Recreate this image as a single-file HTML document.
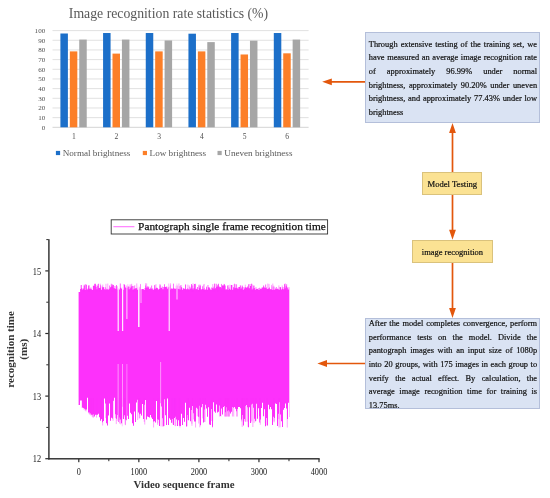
<!DOCTYPE html>
<html><head><meta charset="utf-8"><title>Model testing</title>
<style>
html,body{margin:0;padding:0;background:#fff;}
body{width:550px;height:498px;position:relative;overflow:hidden;font-family:"Liberation Serif",serif;}
svg{position:absolute;left:0;top:0;}
svg text{font-family:"Liberation Serif",serif;}
.box{position:absolute;box-sizing:border-box;}
.blue{background:#dae3f3;border:1px solid #b4bfda;left:364.9px;width:174.9px;}
.yel{background:#fbe293;border:1px solid #dac27c;text-align:center;color:#111;white-space:nowrap;-webkit-text-stroke:0.2px #111;}
.ln{position:absolute;left:2.9px;width:168.3px;-webkit-text-stroke:0.2px #111;height:13.6px;line-height:13.6px;font-size:8.4px;color:#111;text-align:justify;text-align-last:justify;white-space:nowrap;}
.ln.last{text-align-last:left;}
</style></head><body>
<svg width="550" height="498" viewBox="0 0 550 498">
<rect x="52.5" y="126.80" width="256.1" height="1" fill="#d4d4d4"/>
<text x="45.2" y="129.70" text-anchor="end" font-size="7.05" fill="#505050">0</text>
<rect x="52.5" y="117.13" width="256.1" height="1" fill="#e1e1e1"/>
<text x="45.2" y="120.03" text-anchor="end" font-size="7.05" fill="#505050">10</text>
<rect x="52.5" y="107.46" width="256.1" height="1" fill="#e1e1e1"/>
<text x="45.2" y="110.36" text-anchor="end" font-size="7.05" fill="#505050">20</text>
<rect x="52.5" y="97.79" width="256.1" height="1" fill="#e1e1e1"/>
<text x="45.2" y="100.69" text-anchor="end" font-size="7.05" fill="#505050">30</text>
<rect x="52.5" y="88.12" width="256.1" height="1" fill="#e1e1e1"/>
<text x="45.2" y="91.02" text-anchor="end" font-size="7.05" fill="#505050">40</text>
<rect x="52.5" y="78.45" width="256.1" height="1" fill="#e1e1e1"/>
<text x="45.2" y="81.35" text-anchor="end" font-size="7.05" fill="#505050">50</text>
<rect x="52.5" y="68.78" width="256.1" height="1" fill="#e1e1e1"/>
<text x="45.2" y="71.68" text-anchor="end" font-size="7.05" fill="#505050">60</text>
<rect x="52.5" y="59.11" width="256.1" height="1" fill="#e1e1e1"/>
<text x="45.2" y="62.01" text-anchor="end" font-size="7.05" fill="#505050">70</text>
<rect x="52.5" y="49.44" width="256.1" height="1" fill="#e1e1e1"/>
<text x="45.2" y="52.34" text-anchor="end" font-size="7.05" fill="#505050">80</text>
<rect x="52.5" y="39.77" width="256.1" height="1" fill="#e1e1e1"/>
<text x="45.2" y="42.67" text-anchor="end" font-size="7.05" fill="#505050">90</text>
<rect x="52.5" y="30.10" width="256.1" height="1" fill="#e1e1e1"/>
<text x="45.2" y="33.00" text-anchor="end" font-size="7.05" fill="#505050">100</text>
<rect x="60.40" y="33.50" width="7.5" height="93.80" fill="#1c6fc9"/>
<rect x="69.82" y="51.39" width="7.5" height="75.91" fill="#fc7f28"/>
<rect x="79.24" y="39.59" width="7.5" height="87.71" fill="#a6a6a6"/>
<text x="73.84" y="139.3" text-anchor="middle" font-size="7.6" fill="#505050">1</text>
<rect x="103.08" y="33.02" width="7.5" height="94.28" fill="#1c6fc9"/>
<rect x="112.50" y="53.61" width="7.5" height="73.69" fill="#fc7f28"/>
<rect x="121.92" y="39.59" width="7.5" height="87.71" fill="#a6a6a6"/>
<text x="116.52" y="139.3" text-anchor="middle" font-size="7.6" fill="#505050">2</text>
<rect x="145.76" y="33.02" width="7.5" height="94.28" fill="#1c6fc9"/>
<rect x="155.18" y="51.39" width="7.5" height="75.91" fill="#fc7f28"/>
<rect x="164.60" y="40.46" width="7.5" height="86.84" fill="#a6a6a6"/>
<text x="159.20" y="139.3" text-anchor="middle" font-size="7.6" fill="#505050">3</text>
<rect x="188.44" y="33.69" width="7.5" height="93.61" fill="#1c6fc9"/>
<rect x="197.86" y="51.39" width="7.5" height="75.91" fill="#fc7f28"/>
<rect x="207.28" y="42.11" width="7.5" height="85.19" fill="#a6a6a6"/>
<text x="201.88" y="139.3" text-anchor="middle" font-size="7.6" fill="#505050">4</text>
<rect x="231.12" y="33.02" width="7.5" height="94.28" fill="#1c6fc9"/>
<rect x="240.54" y="54.48" width="7.5" height="72.82" fill="#fc7f28"/>
<rect x="249.96" y="40.66" width="7.5" height="86.64" fill="#a6a6a6"/>
<text x="244.56" y="139.3" text-anchor="middle" font-size="7.6" fill="#505050">5</text>
<rect x="273.80" y="33.02" width="7.5" height="94.28" fill="#1c6fc9"/>
<rect x="283.22" y="53.32" width="7.5" height="73.98" fill="#fc7f28"/>
<rect x="292.64" y="39.59" width="7.5" height="87.71" fill="#a6a6a6"/>
<text x="287.24" y="139.3" text-anchor="middle" font-size="7.6" fill="#505050">6</text>
<text x="168.5" y="18" text-anchor="middle" font-size="13.75" fill="#595959">Image recognition rate statistics (%)</text>
<rect x="55.9" y="150.9" width="4.2" height="4.2" fill="#1c6fc9"/>
<text x="62.7" y="155.5" font-size="9.13" fill="#595959">Normal brightness</text>
<rect x="142.8" y="150.9" width="4.2" height="4.2" fill="#fc7f28"/>
<text x="149.6" y="155.5" font-size="9.13" fill="#595959">Low brightness</text>
<rect x="217.5" y="150.9" width="4.2" height="4.2" fill="#a6a6a6"/>
<text x="224.3" y="155.5" font-size="9.13" fill="#595959">Uneven brightness</text>
<path d="M78.60,404.98L78.60,292.00L79.35,292.00L79.35,292.00L80.10,292.00L80.10,288.89L80.85,288.89L80.85,284.96L81.60,284.96L81.60,288.18L82.35,288.18L82.35,289.48L83.10,289.48L83.10,288.55L83.85,288.55L83.85,285.80L84.60,285.80L84.60,289.94L85.35,289.94L85.35,284.28L86.10,284.28L86.10,284.65L86.85,284.65L86.85,289.54L87.60,289.54L87.60,288.45L88.35,288.45L88.35,285.39L89.10,285.39L89.10,288.86L89.85,288.86L89.85,288.70L90.60,288.70L90.60,287.49L91.35,287.49L91.35,289.32L92.10,289.32L92.10,289.95L92.85,289.95L92.85,285.80L93.60,285.80L93.60,285.87L94.35,285.87L94.35,283.82L95.10,283.82L95.10,284.21L95.85,284.21L95.85,287.09L96.60,287.09L96.60,289.33L97.35,289.33L97.35,285.90L98.10,285.90L98.10,283.84L98.85,283.84L98.85,287.90L99.60,287.90L99.60,287.85L100.35,287.85L100.35,285.34L101.10,285.34L101.10,289.87L101.85,289.87L101.85,286.52L102.60,286.52L102.60,287.62L103.35,287.62L103.35,287.05L104.10,287.05L104.10,289.15L104.85,289.15L104.85,287.33L105.60,287.33L105.60,289.76L106.35,289.76L106.35,288.70L107.10,288.70L107.10,289.16L107.85,289.16L107.85,289.86L108.60,289.86L108.60,288.86L109.35,288.86L109.35,285.38L110.10,285.38L110.10,287.21L110.85,287.21L110.85,283.63L111.60,283.63L111.60,286.52L112.35,286.52L112.35,284.73L113.10,284.73L113.10,285.03L113.85,285.03L113.85,288.16L114.60,288.16L114.60,286.01L115.35,286.01L115.35,288.87L116.10,288.87L116.10,285.05L116.85,285.05L116.85,286.34L117.60,286.34L117.60,289.59L118.35,289.59L118.35,288.32L119.10,288.32L119.10,289.53L119.85,289.53L119.85,283.55L120.60,283.55L120.60,287.65L121.35,287.65L121.35,288.66L122.10,288.66L122.10,287.10L122.85,287.10L122.85,289.70L123.60,289.70L123.60,284.11L124.35,284.11L124.35,284.70L125.10,284.70L125.10,287.42L125.85,287.42L125.85,285.58L126.60,285.58L126.60,288.09L127.35,288.09L127.35,286.47L128.10,286.47L128.10,286.60L128.85,286.60L128.85,289.17L129.60,289.17L129.60,286.83L130.35,286.83L130.35,288.13L131.10,288.13L131.10,286.59L131.85,286.59L131.85,286.10L132.60,286.10L132.60,289.87L133.35,289.87L133.35,289.37L134.10,289.37L134.10,288.79L134.85,288.79L134.85,288.42L135.60,288.42L135.60,287.99L136.35,287.99L136.35,288.22L137.10,288.22L137.10,289.74L137.85,289.74L137.85,287.14L138.60,287.14L138.60,288.60L139.35,288.60L139.35,286.78L140.10,286.78L140.10,284.13L140.85,284.13L140.85,289.35L141.60,289.35L141.60,288.93L142.35,288.93L142.35,289.00L143.10,289.00L143.10,289.02L143.85,289.02L143.85,289.94L144.60,289.94L144.60,288.02L145.35,288.02L145.35,285.61L146.10,285.61L146.10,287.49L146.85,287.49L146.85,286.20L147.60,286.20L147.60,287.58L148.35,287.58L148.35,286.57L149.10,286.57L149.10,289.02L149.85,289.02L149.85,287.47L150.60,287.47L150.60,288.86L151.35,288.86L151.35,285.43L152.10,285.43L152.10,288.61L152.85,288.61L152.85,289.89L153.60,289.89L153.60,288.86L154.35,288.86L154.35,285.16L155.10,285.16L155.10,288.66L155.85,288.66L155.85,287.73L156.60,287.73L156.60,287.84L157.35,287.84L157.35,288.20L158.10,288.20L158.10,289.39L158.85,289.39L158.85,289.01L159.60,289.01L159.60,284.33L160.35,284.33L160.35,288.18L161.10,288.18L161.10,287.63L161.85,287.63L161.85,286.58L162.60,286.58L162.60,289.33L163.35,289.33L163.35,287.12L164.10,287.12L164.10,284.16L164.85,284.16L164.85,287.03L165.60,287.03L165.60,286.81L166.35,286.81L166.35,287.20L167.10,287.20L167.10,288.72L167.85,288.72L167.85,287.35L168.60,287.35L168.60,283.61L169.35,283.61L169.35,286.48L170.10,286.48L170.10,289.56L170.85,289.56L170.85,288.38L171.60,288.38L171.60,288.53L172.35,288.53L172.35,288.68L173.10,288.68L173.10,287.68L173.85,287.68L173.85,288.66L174.60,288.66L174.60,288.25L175.35,288.25L175.35,289.10L176.10,289.10L176.10,288.13L176.85,288.13L176.85,285.53L177.60,285.53L177.60,288.82L178.35,288.82L178.35,289.05L179.10,289.05L179.10,289.16L179.85,289.16L179.85,289.47L180.60,289.47L180.60,285.10L181.35,285.10L181.35,287.34L182.10,287.34L182.10,289.76L182.85,289.76L182.85,288.10L183.60,288.10L183.60,288.65L184.35,288.65L184.35,288.87L185.10,288.87L185.10,284.39L185.85,284.39L185.85,289.30L186.60,289.30L186.60,289.15L187.35,289.15L187.35,288.17L188.10,288.17L188.10,289.24L188.85,289.24L188.85,289.57L189.60,289.57L189.60,286.73L190.35,286.73L190.35,288.40L191.10,288.40L191.10,284.03L191.85,284.03L191.85,288.59L192.60,288.59L192.60,289.44L193.35,289.44L193.35,288.20L194.10,288.20L194.10,283.97L194.85,283.97L194.85,283.85L195.60,283.85L195.60,289.19L196.35,289.19L196.35,288.74L197.10,288.74L197.10,287.03L197.85,287.03L197.85,289.92L198.60,289.92L198.60,284.68L199.35,284.68L199.35,287.66L200.10,287.66L200.10,285.49L200.85,285.49L200.85,289.51L201.60,289.51L201.60,289.12L202.35,289.12L202.35,286.29L203.10,286.29L203.10,289.28L203.85,289.28L203.85,288.28L204.60,288.28L204.60,289.92L205.35,289.92L205.35,289.31L206.10,289.31L206.10,287.26L206.85,287.26L206.85,289.85L207.60,289.85L207.60,284.88L208.35,284.88L208.35,287.18L209.10,287.18L209.10,287.55L209.85,287.55L209.85,288.84L210.60,288.84L210.60,289.94L211.35,289.94L211.35,287.53L212.10,287.53L212.10,288.32L212.85,288.32L212.85,287.61L213.60,287.61L213.60,288.81L214.35,288.81L214.35,283.78L215.10,283.78L215.10,288.22L215.85,288.22L215.85,283.79L216.60,283.79L216.60,286.70L217.35,286.70L217.35,285.33L218.10,285.33L218.10,283.69L218.85,283.69L218.85,286.47L219.60,286.47L219.60,287.35L220.35,287.35L220.35,287.04L221.10,287.04L221.10,288.34L221.85,288.34L221.85,284.89L222.60,284.89L222.60,285.88L223.35,285.88L223.35,284.84L224.10,284.84L224.10,284.28L224.85,284.28L224.85,285.41L225.60,285.41L225.60,289.43L226.35,289.43L226.35,289.24L227.10,289.24L227.10,285.41L227.85,285.41L227.85,289.96L228.60,289.96L228.60,287.42L229.35,287.42L229.35,289.07L230.10,289.07L230.10,289.85L230.85,289.85L230.85,284.93L231.60,284.93L231.60,284.96L232.35,284.96L232.35,289.66L233.10,289.66L233.10,287.29L233.85,287.29L233.85,284.25L234.60,284.25L234.60,288.14L235.35,288.14L235.35,287.87L236.10,287.87L236.10,288.12L236.85,288.12L236.85,287.69L237.60,287.69L237.60,288.85L238.35,288.85L238.35,286.93L239.10,286.93L239.10,287.09L239.85,287.09L239.85,285.37L240.60,285.37L240.60,288.69L241.35,288.69L241.35,287.42L242.10,287.42L242.10,286.51L242.85,286.51L242.85,289.68L243.60,289.68L243.60,286.91L244.35,286.91L244.35,288.58L245.10,288.58L245.10,286.88L245.85,286.88L245.85,287.68L246.60,287.68L246.60,287.32L247.35,287.32L247.35,287.18L248.10,287.18L248.10,284.25L248.85,284.25L248.85,288.15L249.60,288.15L249.60,284.12L250.35,284.12L250.35,285.90L251.10,285.90L251.10,283.83L251.85,283.83L251.85,289.57L252.60,289.57L252.60,288.38L253.35,288.38L253.35,285.71L254.10,285.71L254.10,288.05L254.85,288.05L254.85,289.71L255.60,289.71L255.60,287.13L256.35,287.13L256.35,289.04L257.10,289.04L257.10,289.09L257.85,289.09L257.85,288.27L258.60,288.27L258.60,289.92L259.35,289.92L259.35,287.79L260.10,287.79L260.10,288.77L260.85,288.77L260.85,288.65L261.60,288.65L261.60,287.39L262.35,287.39L262.35,287.60L263.10,287.60L263.10,285.38L263.85,285.38L263.85,287.30L264.60,287.30L264.60,287.94L265.35,287.94L265.35,284.59L266.10,284.59L266.10,287.57L266.85,287.57L266.85,288.89L267.60,288.89L267.60,289.10L268.35,289.10L268.35,288.21L269.10,288.21L269.10,287.42L269.85,287.42L269.85,289.31L270.60,289.31L270.60,288.88L271.35,288.88L271.35,289.54L272.10,289.54L272.10,289.93L272.85,289.93L272.85,289.79L273.60,289.79L273.60,286.84L274.35,286.84L274.35,289.84L275.10,289.84L275.10,288.45L275.85,288.45L275.85,287.03L276.60,287.03L276.60,289.02L277.35,289.02L277.35,288.51L278.10,288.51L278.10,289.16L278.85,289.16L278.85,289.71L279.60,289.71L279.60,286.90L280.35,286.90L280.35,287.24L281.10,287.24L281.10,289.58L281.85,289.58L281.85,288.72L282.60,288.72L282.60,286.97L283.35,286.97L283.35,289.30L284.10,289.30L284.10,284.19L284.85,284.19L284.85,288.30L285.60,288.30L285.60,286.26L286.35,286.26L286.35,284.17L287.10,284.17L287.10,287.53L287.85,287.53L287.85,289.52L288.60,289.52L288.60,287.26L289.30,287.26L289.30,416.93L289.00,416.93L289.00,402.71L288.00,402.71L288.00,419.00L287.00,419.00L287.00,408.62L286.00,408.62L286.00,403.48L285.00,403.48L285.00,408.12L284.00,408.12L284.00,409.70L283.00,409.70L283.00,426.96L282.00,426.96L282.00,421.19L281.00,421.19L281.00,414.49L280.00,414.49L280.00,402.36L279.00,402.36L279.00,413.86L278.00,413.86L278.00,426.05L277.00,426.05L277.00,404.02L276.00,404.02L276.00,403.47L275.00,403.47L275.00,417.99L274.00,417.99L274.00,416.72L273.00,416.72L273.00,424.96L272.00,424.96L272.00,409.15L271.00,409.15L271.00,406.95L270.00,406.95L270.00,409.34L269.00,409.34L269.00,404.68L268.00,404.68L268.00,425.57L267.00,425.57L267.00,417.91L266.00,417.91L266.00,426.32L265.00,426.32L265.00,409.19L264.00,409.19L264.00,416.33L263.00,416.33L263.00,402.80L262.00,402.80L262.00,408.02L261.00,408.02L261.00,419.50L260.00,419.50L260.00,416.37L259.00,416.37L259.00,408.33L258.00,408.33L258.00,418.68L257.00,418.68L257.00,403.77L256.00,403.77L256.00,421.22L255.00,421.22L255.00,418.87L254.00,418.87L254.00,407.73L253.00,407.73L253.00,403.77L252.00,403.77L252.00,404.59L251.00,404.59L251.00,423.07L250.00,423.07L250.00,407.34L249.00,407.34L249.00,427.21L248.00,427.21L248.00,407.27L247.00,407.27L247.00,404.96L246.00,404.96L246.00,406.01L245.00,406.01L245.00,418.96L244.00,418.96L244.00,425.44L243.00,425.44L243.00,415.03L242.00,415.03L242.00,419.42L241.00,419.42L241.00,408.15L240.00,408.15L240.00,407.10L239.00,407.10L239.00,407.06L238.00,407.06L238.00,408.98L237.00,408.98L237.00,411.26L236.00,411.26L236.00,408.77L235.00,408.77L235.00,407.09L234.00,407.09L234.00,407.83L233.00,407.83L233.00,406.99L232.00,406.99L232.00,411.71L231.00,411.71L231.00,413.50L230.00,413.50L230.00,411.61L229.00,411.61L229.00,410.15L228.00,410.15L228.00,411.34L227.00,411.34L227.00,407.23L226.00,407.23L226.00,412.26L225.00,412.26L225.00,405.98L224.00,405.98L224.00,407.12L223.00,407.12L223.00,414.52L222.00,414.52L222.00,408.46L221.00,408.46L221.00,415.93L220.00,415.93L220.00,405.51L219.00,405.51L219.00,411.80L218.00,411.80L218.00,412.55L217.00,412.55L217.00,404.38L216.00,404.38L216.00,412.84L215.00,412.84L215.00,411.58L214.00,411.58L214.00,402.14L213.00,402.14L213.00,426.65L212.00,426.65L212.00,408.98L211.00,408.98L211.00,425.06L210.00,425.06L210.00,424.59L209.00,424.59L209.00,407.17L208.00,407.17L208.00,416.87L207.00,416.87L207.00,408.56L206.00,408.56L206.00,404.78L205.00,404.78L205.00,409.53L204.00,409.53L204.00,422.54L203.00,422.54L203.00,404.07L202.00,404.07L202.00,407.18L201.00,407.18L201.00,425.34L200.00,425.34L200.00,405.79L199.00,405.79L199.00,416.76L198.00,416.76L198.00,408.79L197.00,408.79L197.00,407.76L196.00,407.76L196.00,421.42L195.00,421.42L195.00,421.54L194.00,421.54L194.00,413.37L193.00,413.37L193.00,405.88L192.00,405.88L192.00,409.90L191.00,409.90L191.00,421.23L190.00,421.23L190.00,407.84L189.00,407.84L189.00,420.15L188.00,420.15L188.00,415.11L187.00,415.11L187.00,426.47L186.00,426.47L186.00,402.69L185.00,402.69L185.00,421.71L184.00,421.71L184.00,418.00L183.00,418.00L183.00,424.98L182.00,424.98L182.00,413.71L181.00,413.71L181.00,425.91L180.00,425.91L180.00,425.69L179.00,425.69L179.00,420.15L178.00,420.15L178.00,425.96L177.00,425.96L177.00,419.50L176.00,419.50L176.00,416.73L175.00,416.73L175.00,417.96L174.00,417.96L174.00,424.92L173.00,424.92L173.00,418.91L172.00,418.91L172.00,422.81L171.00,422.81L171.00,419.78L170.00,419.78L170.00,418.33L169.00,418.33L169.00,424.90L168.00,424.90L168.00,398.58L167.00,398.58L167.00,425.04L166.00,425.04L166.00,415.33L165.00,415.33L165.00,399.27L164.00,399.27L164.00,426.16L163.00,426.16L163.00,418.21L162.00,418.21L162.00,406.59L161.00,406.59L161.00,403.15L160.00,403.15L160.00,425.97L159.00,425.97L159.00,419.80L158.00,419.80L158.00,419.16L157.00,419.16L157.00,400.94L156.00,400.94L156.00,422.42L155.00,422.42L155.00,421.01L154.00,421.01L154.00,421.48L153.00,421.48L153.00,419.01L152.00,419.01L152.00,417.51L151.00,417.51L151.00,414.91L150.00,414.91L150.00,417.51L149.00,417.51L149.00,417.04L148.00,417.04L148.00,416.45L147.00,416.45L147.00,419.39L146.00,419.39L146.00,399.94L145.00,399.94L145.00,404.63L144.00,404.63L144.00,418.94L143.00,418.94L143.00,403.88L142.00,403.88L142.00,415.57L141.00,415.57L141.00,413.84L140.00,413.84L140.00,414.28L139.00,414.28L139.00,412.49L138.00,412.49L138.00,399.78L137.00,399.78L137.00,402.57L136.00,402.57L136.00,421.96L135.00,421.96L135.00,411.38L134.00,411.38L134.00,425.73L133.00,425.73L133.00,423.31L132.00,423.31L132.00,414.13L131.00,414.13L131.00,412.75L130.00,412.75L130.00,403.54L129.00,403.54L129.00,419.09L128.00,419.09L128.00,415.82L127.00,415.82L127.00,420.30L126.00,420.30L126.00,419.49L125.00,419.49L125.00,415.30L124.00,415.30L124.00,419.04L123.00,419.04L123.00,406.66L122.00,406.66L122.00,423.25L121.00,423.25L121.00,419.52L120.00,419.52L120.00,417.56L119.00,417.56L119.00,421.90L118.00,421.90L118.00,414.94L117.00,414.94L117.00,418.68L116.00,418.68L116.00,414.33L115.00,414.33L115.00,397.74L114.00,397.74L114.00,400.73L113.00,400.73L113.00,418.56L112.00,418.56L112.00,417.67L111.00,417.67L111.00,420.75L110.00,420.75L110.00,403.44L109.00,403.44L109.00,415.56L108.00,415.56L108.00,425.46L107.00,425.46L107.00,423.34L106.00,423.34L106.00,403.55L105.00,403.55L105.00,398.38L104.00,398.38L104.00,420.97L103.00,420.97L103.00,422.35L102.00,422.35L102.00,419.05L101.00,419.05L101.00,420.75L100.00,420.75L100.00,417.37L99.00,417.37L99.00,413.68L98.00,413.68L98.00,414.78L97.00,414.78L97.00,414.67L96.00,414.67L96.00,414.73L95.00,414.73L95.00,416.40L94.00,416.40L94.00,414.17L93.00,414.17L93.00,414.77L92.00,414.77L92.00,414.65L91.00,414.65L91.00,413.58L90.00,413.58L90.00,412.44L89.00,412.44L89.00,412.61L88.00,412.61L88.00,397.80L87.00,397.80L87.00,409.54L86.00,409.54L86.00,409.53L85.00,409.53L85.00,408.72L84.00,408.72L84.00,407.97L83.00,407.97L83.00,407.51L82.00,407.51L82.00,400.43L81.00,400.43L81.00,400.59L80.00,400.59L80.00,404.98L78.60,404.98Z" fill="#fd31fb"/>
<path d="M280.11,398V427.30M96.58,398V417.61M278.97,398V427.50M115.39,398V418.17M228.25,398V416.50M101.29,398V417.92M200.28,398V420.46M255.44,398V417.83M266.81,398V425.45M157.77,398V423.26M220.84,398V416.50M274.14,398V421.28M187.06,398V426.23M83.97,398V409.64M86.04,398V411.40M125.22,398V424.61M229.38,398V416.50M117.21,398V420.97M244.09,398V421.33M116.29,398V424.10M245.40,398V421.37M159.28,398V417.59M164.32,398V426.08M153.59,398V427.45M154.26,398V421.71M242.17,398V426.94M255.89,398V421.07M173.82,398V417.56M191.95,398V425.83M119.38,398V419.79M93.31,398V417.58M179.96,398V427.50M219.45,398V416.50M121.41,398V421.25M226.14,398V416.50M198.78,398V423.51M85.23,398V410.72M243.24,398V417.94M212.69,398V421.06M160.90,398V426.51M162.36,398V426.55M250.88,398V422.65M100.81,398V420.00M278.89,398V419.17M202.80,398V418.41M232.44,398V416.50M265.33,398V423.12M102.64,398V425.49M199.85,398V427.32M188.03,398V419.89M172.08,398V422.74M225.38,398V416.50M259.46,398V422.43M122.36,398V426.31M228.05,398V416.50M175.77,398V426.21M200.01,398V417.46M260.29,398V424.77M120.76,398V424.33M259.84,398V422.91M277.50,398V422.46M82.13,398V408.09M252.86,398V427.00M237.22,398V416.50M247.23,398V421.69M92.20,398V416.64M89.87,398V414.66M248.11,398V426.88M241.74,398V421.44M197.27,398V416.31M113.03,398V420.80M90.80,398V415.44M187.89,398V417.94M116.68,398V417.03M175.02,398V426.04M172.96,398V424.45M229.06,398V416.50M245.72,398V422.01M89.23,398V414.11M137.66,398V420.04M204.58,398V421.98M139.76,398V418.01M233.71,398V416.50M226.05,398V416.50M224.67,398V416.50M191.85,398V423.61M259.52,398V421.75M227.10,398V416.50M254.12,398V422.85M119.47,398V423.49M251.75,398V421.35M144.76,398V424.53M287.27,398V427.50M144.24,398V421.83M158.25,398V417.71M193.55,398V419.45M179.35,398V425.95M195.55,398V427.50M121.94,398V418.22M93.04,398V417.34M139.30,398V418.63M212.51,398V427.50M236.79,398V416.50M274.10,398V422.33M125.45,398V425.18M125.05,398V416.84M157.64,398V424.87M211.70,398V420.92M105.84,398V418.07M204.94,398V421.93M192.83,292V285.65M199.22,292V286.06M271.55,292V284.91M154.81,292V284.86M131.71,292V283.78M229.93,292V284.66M84.27,292V284.50M146.67,292V283.40M84.29,292V285.23M247.65,292V285.97M204.22,292V283.94M212.75,292V284.09M127.74,292V284.28M107.78,292V283.57M285.38,292V283.48M282.28,292V285.48M234.48,292V283.57M221.57,292V283.86M185.61,292V284.70M267.81,292V283.53M81.12,292V285.13M189.19,292V285.34M97.63,292V284.42M228.46,292V285.15M145.60,292V283.23M88.81,292V286.14M136.77,292V283.43M140.47,292V283.90M193.02,292V283.36M192.31,292V285.33M191.49,292V285.17M130.01,292V284.49M235.74,292V284.14M251.99,292V283.83M179.32,292V286.16M218.08,292V284.11M155.95,292V284.13M236.41,292V284.40M254.36,292V285.50M252.98,292V284.95M138.45,292V285.47M170.55,292V283.37M173.52,292V283.82M94.91,292V284.08M278.89,292V285.41M170.13,292V285.12M160.38,292V285.06M133.98,292V286.02M245.29,292V284.67M195.64,292V284.43M240.47,292V285.96M272.79,292V283.55M269.02,292V283.92M102.77,292V284.56M214.59,292V283.58M213.96,292V286.39M242.20,292V285.93M112.67,292V284.31M131.14,292V284.42M264.15,292V286.49M134.79,292V285.05M206.52,292V286.41M173.45,292V283.59M100.30,292V283.68M178.95,292V283.50M224.14,292V283.84M88.44,292V285.58M176.19,292V285.69M200.06,292V284.46M94.33,292V286.02M221.41,292V284.06M96.75,292V285.28M273.71,292V285.65M272.12,292V286.48M105.98,292V283.81M176.88,292V283.57M180.62,292V285.89M134.02,292V285.90M132.73,292V285.89M95.50,292V283.59M89.22,292V285.11M84.30,292V285.49M166.79,292V286.19M159.97,292V285.95M236.57,292V284.44M242.21,292V285.18M203.38,292V284.61M111.75,292V284.92M187.85,292V284.63M284.73,292V283.77" fill="none" stroke="#fd31fb" stroke-width="0.45"/>
<rect x="117.60" y="282" width="1.2" height="49.0" fill="#fff" opacity="0.9"/>
<rect x="122.00" y="282" width="1.2" height="49.0" fill="#fff" opacity="0.9"/>
<rect x="126.40" y="282" width="1.0" height="37.0" fill="#fff" opacity="0.8"/>
<rect x="138.05" y="282" width="1.5" height="45.0" fill="#fff" opacity="0.9"/>
<rect x="140.55" y="282" width="0.9" height="21.0" fill="#fff" opacity="0.7"/>
<rect x="168.65" y="282" width="1.1" height="49.0" fill="#fff" opacity="0.9"/>
<rect x="176.50" y="282" width="1.0" height="17.5" fill="#fff" opacity="0.8"/>
<rect x="117.70" y="364" width="0.8" height="66" fill="#fff" opacity="0.6"/>
<rect x="122.10" y="364" width="0.8" height="66" fill="#fff" opacity="0.6"/>
<rect x="126.50" y="364" width="0.8" height="66" fill="#fff" opacity="0.45"/>
<rect x="160.30" y="362" width="0.8" height="68" fill="#fff" opacity="0.6"/>
<rect x="48.2" y="239.2" width="1.4" height="220.3" fill="#2a2a2a"/>
<rect x="48.2" y="458.1" width="271.5" height="1.4" fill="#2a2a2a"/>
<rect x="45.3" y="458.10" width="3.2" height="1.2" fill="#2a2a2a"/>
<text transform="translate(41.1,462.40) scale(0.85,1)" text-anchor="end" font-size="9.8" fill="#222">12</text>
<rect x="45.3" y="395.50" width="3.2" height="1.2" fill="#2a2a2a"/>
<text transform="translate(41.1,399.80) scale(0.85,1)" text-anchor="end" font-size="9.8" fill="#222">13</text>
<rect x="45.3" y="332.90" width="3.2" height="1.2" fill="#2a2a2a"/>
<text transform="translate(41.1,337.20) scale(0.85,1)" text-anchor="end" font-size="9.8" fill="#222">14</text>
<rect x="45.3" y="270.30" width="3.2" height="1.2" fill="#2a2a2a"/>
<text transform="translate(41.1,274.60) scale(0.85,1)" text-anchor="end" font-size="9.8" fill="#222">15</text>
<rect x="46.3" y="426.90" width="2.2" height="1" fill="#2a2a2a"/>
<rect x="46.3" y="364.30" width="2.2" height="1" fill="#2a2a2a"/>
<rect x="46.3" y="301.70" width="2.2" height="1" fill="#2a2a2a"/>
<rect x="46.3" y="239.10" width="2.2" height="1" fill="#2a2a2a"/>
<rect x="78.20" y="459" width="1.2" height="3.2" fill="#2a2a2a"/>
<text transform="translate(78.80,474.7) scale(0.88,1)" text-anchor="middle" font-size="9.4" fill="#222">0</text>
<rect x="138.25" y="459" width="1.2" height="3.2" fill="#2a2a2a"/>
<text transform="translate(138.85,474.7) scale(0.88,1)" text-anchor="middle" font-size="9.4" fill="#222">1000</text>
<rect x="198.30" y="459" width="1.2" height="3.2" fill="#2a2a2a"/>
<text transform="translate(198.90,474.7) scale(0.88,1)" text-anchor="middle" font-size="9.4" fill="#222">2000</text>
<rect x="258.35" y="459" width="1.2" height="3.2" fill="#2a2a2a"/>
<text transform="translate(258.95,474.7) scale(0.88,1)" text-anchor="middle" font-size="9.4" fill="#222">3000</text>
<rect x="318.40" y="459" width="1.2" height="3.2" fill="#2a2a2a"/>
<text transform="translate(319.00,474.7) scale(0.88,1)" text-anchor="middle" font-size="9.4" fill="#222">4000</text>
<rect x="108.32" y="459" width="1" height="2.2" fill="#2a2a2a"/>
<rect x="168.38" y="459" width="1" height="2.2" fill="#2a2a2a"/>
<rect x="228.43" y="459" width="1" height="2.2" fill="#2a2a2a"/>
<rect x="288.48" y="459" width="1" height="2.2" fill="#2a2a2a"/>
<text x="184" y="488.3" text-anchor="middle" font-size="10.8" font-weight="bold" fill="#333">Video sequence frame</text>
<text transform="translate(13.6,349.4) rotate(-90)" text-anchor="middle" font-size="11" font-weight="bold" fill="#333">recognition time</text>
<text transform="translate(27,349.3) rotate(-90)" text-anchor="middle" font-size="11" font-weight="bold" fill="#333">(ms)</text>
<rect x="111.2" y="219.8" width="216.4" height="14.2" fill="#fff" stroke="#333" stroke-width="0.9"/>
<rect x="113.4" y="226.3" width="21" height="0.9" fill="#ff55ff"/>
<text x="138.1" y="230.1" font-size="11.3" fill="#111" stroke="#111" stroke-width="0.25">Pantograph single frame recognition time</text>
<line x1="366.5" y1="81.8" x2="330.80" y2="81.80" stroke="#e3570c" stroke-width="1.7"/><polygon points="322.20,81.80 331.80,78.40 331.80,85.20" fill="#e3570c"/>
<line x1="366.5" y1="363.5" x2="326.00" y2="363.50" stroke="#e3570c" stroke-width="1.7"/><polygon points="317.40,363.50 327.00,360.10 327.00,366.90" fill="#e3570c"/>
<line x1="452.5" y1="172.5" x2="452.50" y2="131.90" stroke="#e3570c" stroke-width="1.7"/><polygon points="452.50,122.90 455.90,132.90 449.10,132.90" fill="#e3570c"/>
<line x1="452.5" y1="195" x2="452.50" y2="230.80" stroke="#e3570c" stroke-width="1.7"/><polygon points="452.50,239.80 449.10,229.80 455.90,229.80" fill="#e3570c"/>
<line x1="452.5" y1="263" x2="452.50" y2="308.90" stroke="#e3570c" stroke-width="1.7"/><polygon points="452.50,317.90 449.10,307.90 455.90,307.90" fill="#e3570c"/>
</svg>
<div class="box blue" style="top:32.2px;height:90.6px;">
<div class="ln" style="top:4.7px">Through extensive testing of the training set, we</div>
<div class="ln" style="top:18.3px">have measured an average image recognition rate</div>
<div class="ln" style="top:31.9px">of approximately 96.99% under normal</div>
<div class="ln" style="top:45.5px">brightness, approximately 90.20% under uneven</div>
<div class="ln" style="top:59.1px">brightness, and approximately 77.43% under low</div>
<div class="ln last" style="top:72.7px">brightness</div>
</div>
<div class="box yel" style="left:422.4px;top:172.3px;width:59.9px;height:22.8px;font-size:8.6px;line-height:23.4px;">Model Testing</div>
<div class="box yel" style="left:412.2px;top:240.2px;width:80.5px;height:22.8px;font-size:8.45px;line-height:23.2px;">image recognition</div>
<div class="box blue" style="top:318.1px;height:90.5px;">
<div class="ln" style="top:-1.7px">After the model completes convergence, perform</div>
<div class="ln" style="top:11.85px">performance tests on the model. Divide the</div>
<div class="ln" style="top:25.4px">pantograph images with an input size of 1080p</div>
<div class="ln" style="top:38.95px">into 20 groups, with 175 images in each group to</div>
<div class="ln" style="top:52.5px">verify the actual effect. By calculation, the</div>
<div class="ln" style="top:66.05px">average image recognition time for training is</div>
<div class="ln last" style="top:79.6px">13.75ms.</div>
</div>
</body></html>
